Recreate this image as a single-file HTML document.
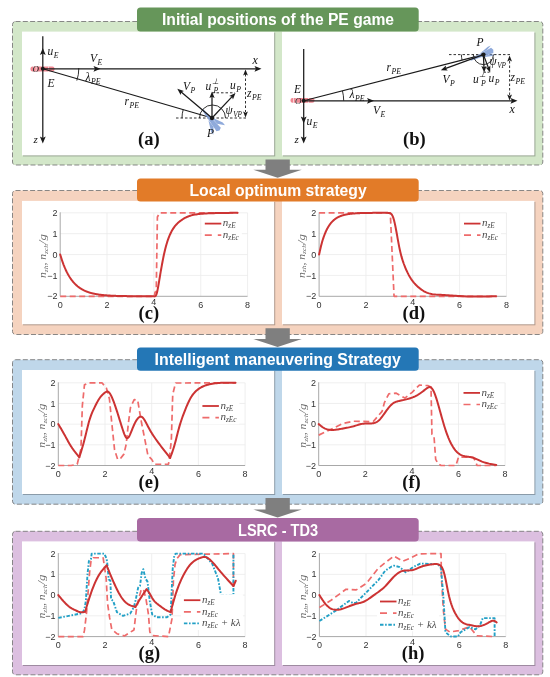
<!DOCTYPE html>
<html><head><meta charset="utf-8"><style>
html,body{margin:0;padding:0;background:#fff;width:550px;height:677px;overflow:hidden}
svg{display:block;filter:blur(0.3px)}
</style></head><body>
<svg width="550" height="677" viewBox="0 0 550 677">
<rect x="0" y="0" width="550" height="677" fill="#ffffff"/>
<rect x="12.5" y="21.5" width="530.3" height="143.5" rx="3" fill="#d3e7c9" stroke="#747474" stroke-width="0.85" stroke-dasharray="5 2.3"/>
<rect x="23" y="32.6" width="252.2" height="123.80000000000001" fill="#000000" opacity="0.28"/>
<rect x="283" y="32.6" width="252.39999999999998" height="123.80000000000001" fill="#000000" opacity="0.28"/>
<rect x="22" y="31.6" width="252.2" height="123.80000000000001" fill="#ffffff"/>
<rect x="282" y="31.6" width="252.39999999999998" height="123.80000000000001" fill="#ffffff"/>
<rect x="12.5" y="190.5" width="530.3" height="144.0" rx="3" fill="#f5d3bf" stroke="#747474" stroke-width="0.85" stroke-dasharray="5 2.3"/>
<rect x="23" y="201.9" width="252.2" height="123.4" fill="#000000" opacity="0.28"/>
<rect x="283" y="201.9" width="252.39999999999998" height="123.4" fill="#000000" opacity="0.28"/>
<rect x="22" y="200.9" width="252.2" height="123.4" fill="#ffffff"/>
<rect x="282" y="200.9" width="252.39999999999998" height="123.4" fill="#ffffff"/>
<rect x="12.5" y="359.7" width="530.3" height="144.5" rx="3" fill="#bfd7ea" stroke="#747474" stroke-width="0.85" stroke-dasharray="5 2.3"/>
<rect x="23" y="371.0" width="252.2" height="124.0" fill="#000000" opacity="0.28"/>
<rect x="283" y="371.0" width="252.39999999999998" height="124.0" fill="#000000" opacity="0.28"/>
<rect x="22" y="370.0" width="252.2" height="124.0" fill="#ffffff"/>
<rect x="282" y="370.0" width="252.39999999999998" height="124.0" fill="#ffffff"/>
<rect x="12.5" y="531.3" width="530.3" height="143.5" rx="3" fill="#dcbfe0" stroke="#747474" stroke-width="0.85" stroke-dasharray="5 2.3"/>
<rect x="23" y="542.4" width="252.2" height="123.60000000000002" fill="#000000" opacity="0.28"/>
<rect x="283" y="542.4" width="252.39999999999998" height="123.60000000000002" fill="#000000" opacity="0.28"/>
<rect x="22" y="541.4" width="252.2" height="123.60000000000002" fill="#ffffff"/>
<rect x="282" y="541.4" width="252.39999999999998" height="123.60000000000002" fill="#ffffff"/>
<rect x="137" y="7.4" width="281.7" height="24.200000000000003" rx="3.5" fill="#66965a"/>
<text x="278.0" y="24.8" text-anchor="middle" textLength="232" lengthAdjust="spacingAndGlyphs" font-family="'Liberation Sans', sans-serif" font-weight="bold" font-size="15.6" fill="#ffffff">Initial positions of the PE game</text>
<rect x="137" y="178.4" width="281.7" height="23.0" rx="3.5" fill="#e27b28"/>
<text x="278.1" y="196.20000000000002" text-anchor="middle" textLength="177.2" lengthAdjust="spacingAndGlyphs" font-family="'Liberation Sans', sans-serif" font-weight="bold" font-size="15.6" fill="#ffffff">Local optimum strategy</text>
<rect x="137" y="347.5" width="281.7" height="23.19999999999999" rx="3.5" fill="#2477b6"/>
<text x="277.75" y="365.40000000000003" text-anchor="middle" textLength="246.29999999999998" lengthAdjust="spacingAndGlyphs" font-family="'Liberation Sans', sans-serif" font-weight="bold" font-size="15.6" fill="#ffffff">Intelligent maneuvering Strategy</text>
<rect x="137" y="518.0" width="281.7" height="23.5" rx="3.5" fill="#a86aa2"/>
<text x="278.0" y="536.05" text-anchor="middle" textLength="80" lengthAdjust="spacingAndGlyphs" font-family="'Liberation Sans', sans-serif" font-weight="bold" font-size="15.6" fill="#ffffff">LSRC - TD3</text>
<polygon points="265.5,159.4 289.8,159.4 289.8,169.8 301.8,169.8 277.6,177.8 253.3,169.8 265.5,169.8" fill="#7f7f7f"/>
<polygon points="265.5,328.3 289.8,328.3 289.8,338.9 301.8,338.9 277.6,346.9 253.3,338.9 265.5,338.9" fill="#7f7f7f"/>
<polygon points="265.5,498.0 289.8,498.0 289.8,509.4 301.8,509.4 277.6,517.4 253.3,509.4 265.5,509.4" fill="#7f7f7f"/>
<path d="M107.04,212.80V296.30M153.88,212.80V296.30M200.72,212.80V296.30M247.56,212.80V296.30M60.20,275.43H247.56M60.20,254.55H247.56M60.20,233.68H247.56M60.20,212.80H247.56" stroke="#ebebeb" stroke-width="0.8" fill="none"/>
<path d="M60.20,212.30V296.30H247.56" stroke="#a8a8a8" stroke-width="1" fill="none"/>
<text x="57.40" y="215.90" text-anchor="end" font-family="'Liberation Sans', sans-serif" font-size="9" fill="#333333">2</text>
<text x="57.40" y="236.78" text-anchor="end" font-family="'Liberation Sans', sans-serif" font-size="9" fill="#333333">1</text>
<text x="57.40" y="257.65" text-anchor="end" font-family="'Liberation Sans', sans-serif" font-size="9" fill="#333333">0</text>
<text x="57.40" y="278.53" text-anchor="end" font-family="'Liberation Sans', sans-serif" font-size="9" fill="#333333">−1</text>
<text x="57.40" y="299.40" text-anchor="end" font-family="'Liberation Sans', sans-serif" font-size="9" fill="#333333">−2</text>
<text x="60.20" y="307.50" text-anchor="middle" font-family="'Liberation Sans', sans-serif" font-size="9" fill="#333333">0</text>
<text x="107.04" y="307.50" text-anchor="middle" font-family="'Liberation Sans', sans-serif" font-size="9" fill="#333333">2</text>
<text x="153.88" y="304.50" text-anchor="middle" font-family="'Liberation Sans', sans-serif" font-size="9" fill="#333333">4</text>
<text x="200.72" y="307.50" text-anchor="middle" font-family="'Liberation Sans', sans-serif" font-size="9" fill="#333333">6</text>
<text x="247.56" y="307.50" text-anchor="middle" font-family="'Liberation Sans', sans-serif" font-size="9" fill="#333333">8</text>
<text transform="translate(45.70,256.05) rotate(-90)" text-anchor="middle" textLength="44" lengthAdjust="spacingAndGlyphs" font-family="'Liberation Serif', serif" font-style="italic" font-size="10" fill="#6a6a6a">n<tspan font-size="6.5" dy="1.8">zh</tspan><tspan dy="-1.8">, n</tspan><tspan font-size="6.5" dy="1.8">zch</tspan><tspan dy="-1.8" font-size="11">/g</tspan></text>
<polyline points="60.20,296.30 154.35,296.30 155.05,292.12 156.22,292.12 157.39,216.98 159.74,212.80 238.19,212.80" stroke="#ee6b6b" stroke-width="1.7" fill="none" stroke-dasharray="6 3.5" stroke-linejoin="round"/>
<polyline points="60.20,254.55 60.43,255.31 60.67,256.06 60.90,256.82 61.14,257.57 61.37,258.31 61.61,259.04 61.84,259.76 62.07,260.47 62.31,261.17 62.54,261.85 62.78,262.52 63.01,263.17 63.24,263.80 63.48,264.42 63.71,265.03 63.95,265.62 64.18,266.20 64.42,266.77 64.65,267.33 64.88,267.88 65.12,268.42 65.35,268.95 65.59,269.47 65.82,269.98 66.06,270.48 66.29,270.97 66.52,271.46 66.76,271.93 66.99,272.40 67.23,272.85 67.46,273.30 67.69,273.74 67.93,274.17 68.16,274.59 68.40,275.00 68.63,275.41 68.87,275.81 69.10,276.20 69.33,276.58 69.57,276.95 69.80,277.32 70.04,277.68 70.27,278.04 70.50,278.39 70.74,278.73 70.97,279.06 71.21,279.39 71.44,279.71 71.68,280.03 71.91,280.34 72.14,280.64 72.38,280.94 72.61,281.23 72.85,281.52 73.08,281.80 73.32,282.08 73.55,282.35 73.78,282.61 74.02,282.88 74.25,283.13 74.49,283.38 74.72,283.63 74.95,283.87 75.19,284.11 75.42,284.34 75.66,284.57 75.89,284.79 76.13,285.01 76.36,285.22 76.59,285.44 76.83,285.64 77.06,285.84 77.30,286.04 77.53,286.24 77.77,286.43 78.00,286.62 78.23,286.80 78.47,286.98 78.70,287.16 78.94,287.34 79.17,287.51 79.40,287.67 79.64,287.84 79.87,288.00 80.11,288.16 80.34,288.31 80.58,288.46 80.81,288.61 81.04,288.76 81.28,288.90 81.51,289.04 81.75,289.18 81.98,289.32 82.21,289.45 82.45,289.58 82.68,289.71 82.92,289.84 83.15,289.96 83.39,290.08 83.62,290.20 83.85,290.31 84.09,290.43 84.32,290.54 84.56,290.65 84.79,290.76 85.03,290.86 85.26,290.97 85.49,291.07 85.73,291.17 85.96,291.27 86.20,291.36 86.43,291.46 86.66,291.55 86.90,291.64 87.13,291.73 87.37,291.81 87.60,291.90 87.84,291.98 88.07,292.07 88.30,292.15 88.54,292.23 88.77,292.30 89.01,292.38 89.24,292.45 89.48,292.53 89.71,292.60 89.94,292.67 90.18,292.74 90.41,292.81 90.65,292.87 90.88,292.94 91.11,293.00 91.35,293.07 91.58,293.13 91.82,293.19 92.05,293.25 92.29,293.30 92.52,293.36 92.75,293.42 92.99,293.47 93.22,293.53 93.46,293.58 93.69,293.63 93.92,293.68 94.16,293.73 94.39,293.78 94.63,293.83 94.86,293.88 95.10,293.92 95.33,293.97 95.56,294.01 95.80,294.06 96.03,294.10 96.27,294.14 96.50,294.18 96.74,294.22 96.97,294.26 97.20,294.30 97.44,294.34 97.67,294.38 97.91,294.41 98.14,294.45 98.37,294.48 98.61,294.52 98.84,294.55 99.08,294.59 99.31,294.62 99.55,294.65 99.78,294.68 100.01,294.71 100.25,294.74 100.48,294.77 100.72,294.80 100.95,294.83 101.19,294.86 101.42,294.89 101.65,294.91 101.89,294.94 102.12,294.96 102.36,294.99 102.59,295.01 102.82,295.04 103.06,295.06 103.29,295.09 103.53,295.11 103.76,295.13 104.00,295.15 104.23,295.18 104.46,295.20 104.70,295.22 104.93,295.24 105.17,295.26 105.40,295.28 105.63,295.30 105.87,295.32 106.10,295.34 106.34,295.36 106.57,295.37 106.81,295.39 107.04,295.41 107.27,295.43 107.51,295.44 107.74,295.46 107.98,295.47 108.21,295.49 108.45,295.51 108.68,295.52 108.91,295.54 109.15,295.55 109.38,295.56 109.62,295.58 109.85,295.59 110.08,295.61 110.32,295.62 110.55,295.63 110.79,295.64 111.02,295.66 111.26,295.67 111.49,295.68 111.72,295.69 111.96,295.70 112.19,295.72 112.43,295.73 112.66,295.74 112.90,295.75 113.13,295.76 113.36,295.77 113.60,295.78 113.83,295.79 114.07,295.80 114.30,295.81 114.53,295.82 114.77,295.83 115.00,295.84 115.24,295.85 115.47,295.85 115.71,295.86 115.94,295.87 116.17,295.88 116.41,295.89 116.64,295.89 116.88,295.90 117.11,295.91 117.34,295.92 117.58,295.92 117.81,295.93 118.05,295.94 118.28,295.95 118.52,295.95 118.75,295.96 118.98,295.97 119.22,295.97 119.45,295.98 119.69,295.98 119.92,295.99 120.16,296.00 120.39,296.00 120.62,296.01 120.86,296.01 121.09,296.02 121.33,296.02 121.56,296.03 121.79,296.03 122.03,296.04 122.26,296.04 122.50,296.05 122.73,296.05 122.97,296.06 123.20,296.06 123.43,296.07 123.67,296.07 123.90,296.08 124.14,296.08 124.37,296.09 124.61,296.09 124.84,296.09 125.07,296.10 125.31,296.10 125.54,296.10 125.78,296.11 126.01,296.11 126.24,296.12 126.48,296.12 126.71,296.12 126.95,296.13 127.18,296.13 127.42,296.13 127.65,296.14 127.88,296.14 128.12,296.14 128.35,296.15 128.59,296.15 128.82,296.15 129.05,296.15 129.29,296.16 129.52,296.16 129.76,296.16 129.99,296.16 130.23,296.17 130.46,296.17 130.69,296.17 130.93,296.17 131.16,296.18 131.40,296.18 131.63,296.18 131.87,296.18 132.10,296.19 132.33,296.19 132.57,296.19 132.80,296.19 133.04,296.19 133.27,296.20 133.50,296.20 133.74,296.20 133.97,296.20 134.21,296.20 134.44,296.21 134.68,296.21 134.91,296.21 135.14,296.21 135.38,296.21 135.61,296.21 135.85,296.22 136.08,296.22 136.31,296.22 136.55,296.22 136.78,296.22 137.02,296.22 137.25,296.23 137.49,296.23 137.72,296.23 137.95,296.23 138.19,296.23 138.42,296.23 138.66,296.23 138.89,296.23 139.13,296.24 139.36,296.24 139.59,296.24 139.83,296.24 140.06,296.24 140.30,296.24 140.53,296.24 140.76,296.24 141.00,296.25 141.23,296.25 141.47,296.25 141.70,296.25 141.94,296.25 142.17,296.25 142.40,296.25 142.64,296.25 142.87,296.25 143.11,296.25 143.34,296.25 143.58,296.26 143.81,296.26 144.04,296.26 144.28,296.26 144.51,296.26 144.75,296.26 144.98,296.26 145.21,296.26 145.45,296.26 145.68,296.26 145.92,296.26 146.15,296.26 146.39,296.27 146.62,296.27 146.85,296.27 147.09,296.27 147.32,296.27 147.56,296.27 147.79,296.27 148.03,296.27 148.26,296.27 148.49,296.27 148.73,296.27 148.96,296.27 149.20,296.27 149.43,296.27 149.66,296.28 149.90,296.28 150.13,296.28 150.37,296.29 150.60,296.29 150.84,296.29 151.07,296.29 151.30,296.28 151.54,296.28 151.77,296.27 152.01,296.26 152.24,296.25 152.47,296.25 152.71,296.24 152.94,296.24 153.18,296.24 153.41,296.26 153.65,296.27 153.88,296.30 154.11,296.33 154.35,296.36 154.58,296.38 154.82,296.36 155.05,296.30 155.29,296.18 155.52,295.98 155.75,295.71 155.99,295.33 156.22,294.84 156.57,293.88 156.92,292.66 157.28,291.22 157.63,289.59 157.98,287.80 158.33,285.88 158.68,283.86 159.03,281.77 159.38,279.64 159.74,277.51 160.20,274.70 160.67,271.94 161.14,269.24 161.61,266.59 162.08,264.02 162.55,261.53 163.01,259.12 163.48,256.80 163.95,254.58 164.42,252.46 165.12,249.49 165.82,246.75 166.53,244.24 167.23,241.93 167.93,239.81 168.63,237.87 169.34,236.09 170.04,234.46 170.74,232.97 171.44,231.59 172.31,230.03 173.18,228.63 174.04,227.35 174.91,226.20 175.78,225.16 176.64,224.21 177.51,223.35 178.38,222.56 179.24,221.83 180.11,221.15 181.00,220.49 181.89,219.86 182.78,219.28 183.67,218.72 184.56,218.21 185.45,217.73 186.34,217.28 187.23,216.87 188.12,216.49 189.01,216.14 190.18,215.73 191.35,215.38 192.52,215.07 193.69,214.81 194.87,214.58 196.04,214.39 197.21,214.22 198.38,214.08 199.55,213.95 200.72,213.84 202.59,213.69 204.47,213.55 206.34,213.44 208.21,213.34 210.09,213.26 211.96,213.19 213.84,213.13 215.71,213.08 217.58,213.04 219.46,213.01 221.26,212.98 223.06,212.95 224.87,212.93 226.67,212.90 228.47,212.88 230.28,212.87 232.08,212.85 233.88,212.83 235.69,212.82 237.49,212.80" stroke="#cc3333" stroke-width="2" fill="none" stroke-linejoin="round" stroke-linecap="round"/>
<rect x="201.8" y="217.6" width="40" height="24.2" fill="#ffffff"/>
<line x1="204.8" y1="223.6" x2="221.3" y2="223.6" stroke="#cc3333" stroke-width="1.8"/>
<text x="222.8" y="226.4" font-family="'Liberation Serif', serif" font-style="italic" font-size="11" fill="#4a4a4a">n<tspan font-size="7.3" dy="2">zE</tspan><tspan dy="-2"></tspan></text>
<line x1="204.8" y1="235.2" x2="221.3" y2="235.2" stroke="#ee6b6b" stroke-width="1.7" stroke-dasharray="7 6 4"/>
<text x="222.8" y="238.0" font-family="'Liberation Serif', serif" font-style="italic" font-size="11" fill="#4a4a4a">n<tspan font-size="7.3" dy="2">zEc</tspan><tspan dy="-2"></tspan></text>
<text x="138.6" y="319.0" font-family="'Liberation Serif', serif" font-weight="bold" font-size="18.5" fill="#111">(c)</text>
<path d="M365.94,212.80V296.30M412.78,212.80V296.30M459.62,212.80V296.30M506.46,212.80V296.30M319.10,275.43H506.46M319.10,254.55H506.46M319.10,233.68H506.46M319.10,212.80H506.46" stroke="#ebebeb" stroke-width="0.8" fill="none"/>
<path d="M319.10,212.30V296.30H506.46" stroke="#a8a8a8" stroke-width="1" fill="none"/>
<text x="316.30" y="215.90" text-anchor="end" font-family="'Liberation Sans', sans-serif" font-size="9" fill="#333333">2</text>
<text x="316.30" y="236.78" text-anchor="end" font-family="'Liberation Sans', sans-serif" font-size="9" fill="#333333">1</text>
<text x="316.30" y="257.65" text-anchor="end" font-family="'Liberation Sans', sans-serif" font-size="9" fill="#333333">0</text>
<text x="316.30" y="278.53" text-anchor="end" font-family="'Liberation Sans', sans-serif" font-size="9" fill="#333333">−1</text>
<text x="316.30" y="299.40" text-anchor="end" font-family="'Liberation Sans', sans-serif" font-size="9" fill="#333333">−2</text>
<text x="319.10" y="307.50" text-anchor="middle" font-family="'Liberation Sans', sans-serif" font-size="9" fill="#333333">0</text>
<text x="365.94" y="307.50" text-anchor="middle" font-family="'Liberation Sans', sans-serif" font-size="9" fill="#333333">2</text>
<text x="412.78" y="304.50" text-anchor="middle" font-family="'Liberation Sans', sans-serif" font-size="9" fill="#333333">4</text>
<text x="459.62" y="307.50" text-anchor="middle" font-family="'Liberation Sans', sans-serif" font-size="9" fill="#333333">6</text>
<text x="506.46" y="307.50" text-anchor="middle" font-family="'Liberation Sans', sans-serif" font-size="9" fill="#333333">8</text>
<text transform="translate(304.60,256.05) rotate(-90)" text-anchor="middle" textLength="44" lengthAdjust="spacingAndGlyphs" font-family="'Liberation Serif', serif" font-style="italic" font-size="10" fill="#6a6a6a">n<tspan font-size="6.5" dy="1.8">zh</tspan><tspan dy="-1.8">, n</tspan><tspan font-size="6.5" dy="1.8">zch</tspan><tspan dy="-1.8" font-size="11">/g</tspan></text>
<polyline points="319.10,212.80 390.30,212.80 394.04,296.30 497.09,296.30" stroke="#ee6b6b" stroke-width="1.7" fill="none" stroke-dasharray="6 3.5" stroke-linejoin="round"/>
<polyline points="319.10,254.55 319.33,253.48 319.57,252.42 319.80,251.36 320.04,250.32 320.27,249.28 320.51,248.26 320.74,247.27 320.97,246.29 321.21,245.34 321.44,244.42 321.68,243.54 321.91,242.68 322.14,241.85 322.38,241.06 322.61,240.28 322.85,239.54 323.08,238.81 323.32,238.11 323.55,237.42 323.78,236.75 324.02,236.10 324.25,235.47 324.49,234.85 324.72,234.25 324.96,233.66 325.19,233.09 325.42,232.53 325.66,231.99 325.89,231.46 326.13,230.94 326.36,230.45 326.59,229.96 326.83,229.49 327.06,229.03 327.30,228.59 327.53,228.16 327.77,227.74 328.00,227.33 328.23,226.93 328.47,226.54 328.70,226.17 328.94,225.80 329.17,225.45 329.40,225.10 329.64,224.76 329.87,224.43 330.11,224.12 330.34,223.81 330.58,223.50 330.81,223.21 331.04,222.93 331.28,222.65 331.51,222.38 331.75,222.12 331.98,221.86 332.22,221.61 332.45,221.37 332.68,221.14 332.92,220.91 333.15,220.69 333.39,220.47 333.62,220.26 333.85,220.06 334.09,219.86 334.32,219.66 334.56,219.47 334.79,219.29 335.03,219.11 335.26,218.94 335.49,218.77 335.73,218.61 335.96,218.45 336.20,218.30 336.43,218.14 336.67,218.00 336.90,217.86 337.13,217.72 337.37,217.58 337.60,217.45 337.84,217.32 338.07,217.20 338.30,217.08 338.54,216.96 338.77,216.85 339.01,216.74 339.24,216.63 339.48,216.52 339.71,216.42 339.94,216.32 340.18,216.23 340.41,216.13 340.65,216.04 340.88,215.95 341.11,215.87 341.35,215.78 341.58,215.70 341.82,215.62 342.05,215.54 342.29,215.47 342.52,215.40 342.75,215.32 342.99,215.26 343.22,215.19 343.46,215.12 343.69,215.06 343.93,215.00 344.16,214.94 344.39,214.88 344.63,214.82 344.86,214.77 345.10,214.71 345.33,214.66 345.56,214.61 345.80,214.56 346.03,214.51 346.27,214.46 346.50,214.42 346.74,214.37 346.97,214.33 347.20,214.29 347.44,214.25 347.67,214.21 347.91,214.17 348.14,214.13 348.38,214.10 348.61,214.06 348.84,214.03 349.08,213.99 349.31,213.96 349.55,213.93 349.78,213.90 350.01,213.87 350.25,213.84 350.48,213.81 350.72,213.78 350.95,213.75 351.19,213.73 351.42,213.70 351.65,213.68 351.89,213.65 352.12,213.63 352.36,213.61 352.59,213.59 352.82,213.56 353.06,213.54 353.29,213.52 353.53,213.50 353.76,213.48 354.00,213.47 354.23,213.45 354.46,213.43 354.70,213.41 354.93,213.40 355.17,213.38 355.40,213.36 355.64,213.35 355.87,213.33 356.10,213.32 356.34,213.30 356.57,213.29 356.81,213.28 357.04,213.26 357.27,213.25 357.51,213.24 357.74,213.23 357.98,213.22 358.21,213.20 358.45,213.19 358.68,213.18 358.91,213.17 359.15,213.16 359.38,213.15 359.62,213.14 359.85,213.13 360.09,213.12 360.32,213.11 360.55,213.11 360.79,213.10 361.02,213.09 361.26,213.08 361.49,213.07 361.72,213.07 361.96,213.06 362.19,213.05 362.43,213.04 362.66,213.04 362.90,213.03 363.13,213.03 363.36,213.02 363.60,213.01 363.83,213.01 364.07,213.00 364.30,213.00 364.53,212.99 364.77,212.99 365.00,212.98 365.24,212.98 365.47,212.97 365.71,212.97 365.94,212.96 366.17,212.96 366.41,212.95 366.64,212.95 366.88,212.94 367.11,212.94 367.35,212.94 367.58,212.93 367.81,212.93 368.05,212.93 368.28,212.92 368.52,212.92 368.75,212.92 368.98,212.91 369.22,212.91 369.45,212.91 369.69,212.90 369.92,212.90 370.16,212.90 370.39,212.90 370.62,212.89 370.86,212.89 371.09,212.89 371.33,212.89 371.56,212.88 371.80,212.88 372.03,212.88 372.26,212.88 372.50,212.87 372.73,212.87 372.97,212.87 373.20,212.87 373.43,212.87 373.67,212.86 373.90,212.86 374.14,212.86 374.37,212.86 374.61,212.86 374.84,212.86 375.07,212.85 375.31,212.85 375.54,212.85 375.78,212.85 376.01,212.85 376.24,212.85 376.48,212.85 376.71,212.84 376.95,212.84 377.18,212.84 377.42,212.84 377.65,212.84 377.88,212.84 378.12,212.84 378.35,212.84 378.59,212.84 378.82,212.84 379.06,212.83 379.29,212.83 379.52,212.83 379.76,212.83 379.99,212.83 380.23,212.83 380.46,212.83 380.69,212.83 380.93,212.83 381.16,212.83 381.40,212.82 381.63,212.82 381.87,212.82 382.10,212.82 382.33,212.82 382.57,212.82 382.80,212.82 383.04,212.82 383.27,212.83 383.50,212.83 383.74,212.83 383.97,212.82 384.21,212.82 384.44,212.82 384.68,212.82 384.91,212.81 385.14,212.81 385.38,212.80 385.61,212.80 385.85,212.80 386.08,212.79 386.32,212.79 386.55,212.80 386.78,212.80 387.02,212.81 387.25,212.83 387.49,212.85 387.72,212.87 387.95,212.89 388.19,212.92 388.42,212.96 388.66,212.99 388.89,213.03 389.13,213.07 389.36,213.11 389.59,213.16 389.83,213.21 390.06,213.28 390.30,213.36 390.53,213.46 390.77,213.59 391.00,213.75 391.23,213.95 391.47,214.19 391.70,214.47 391.94,214.80 392.17,215.19 392.40,215.63 392.64,216.13 392.87,216.68 393.11,217.29 393.34,217.95 393.58,218.68 393.81,219.47 394.04,220.31 394.56,222.40 395.07,224.73 395.59,227.28 396.10,229.99 396.62,232.80 397.14,235.68 397.65,238.57 398.17,241.42 398.68,244.19 399.20,246.83 399.76,249.50 400.32,251.98 400.88,254.27 401.44,256.39 402.01,258.36 402.57,260.19 403.13,261.90 403.69,263.50 404.26,265.01 404.82,266.45 405.57,268.27 406.32,270.00 407.07,271.62 407.81,273.16 408.56,274.61 409.31,275.97 410.06,277.25 410.81,278.45 411.56,279.58 412.31,280.64 413.06,281.64 413.81,282.57 414.56,283.45 415.31,284.27 416.06,285.05 416.81,285.78 417.56,286.47 418.31,287.13 419.06,287.76 419.81,288.37 420.23,288.70 420.65,289.02 421.07,289.34 421.49,289.65 421.91,289.94 422.34,290.23 422.76,290.51 423.18,290.78 423.60,291.04 424.02,291.29 425.68,292.15 427.35,292.85 429.01,293.40 430.67,293.83 432.34,294.15 434.00,294.38 435.66,294.55 437.32,294.67 438.99,294.76 440.65,294.84 442.55,294.94 444.44,295.06 446.34,295.19 448.24,295.32 450.13,295.46 452.03,295.60 453.93,295.73 455.83,295.86 457.72,295.98 459.62,296.09 463.25,296.26 466.88,296.39 470.51,296.47 474.14,296.51 477.77,296.53 481.40,296.51 485.03,296.48 488.66,296.43 492.29,296.37 495.92,296.30" stroke="#cc3333" stroke-width="2" fill="none" stroke-linejoin="round" stroke-linecap="round"/>
<rect x="461" y="217.6" width="40" height="24.2" fill="#ffffff"/>
<line x1="464" y1="223.6" x2="480.5" y2="223.6" stroke="#cc3333" stroke-width="1.8"/>
<text x="482" y="226.4" font-family="'Liberation Serif', serif" font-style="italic" font-size="11" fill="#4a4a4a">n<tspan font-size="7.3" dy="2">zE</tspan><tspan dy="-2"></tspan></text>
<line x1="464" y1="235.2" x2="480.5" y2="235.2" stroke="#ee6b6b" stroke-width="1.7" stroke-dasharray="7 6 4"/>
<text x="482" y="238.0" font-family="'Liberation Serif', serif" font-style="italic" font-size="11" fill="#4a4a4a">n<tspan font-size="7.3" dy="2">zEc</tspan><tspan dy="-2"></tspan></text>
<text x="402.5" y="319.0" font-family="'Liberation Serif', serif" font-weight="bold" font-size="18.5" fill="#111">(d)</text>
<path d="M105.00,382.80V465.50M151.70,382.80V465.50M198.40,382.80V465.50M245.10,382.80V465.50M58.30,444.82H245.10M58.30,424.15H245.10M58.30,403.47H245.10M58.30,382.80H245.10" stroke="#ebebeb" stroke-width="0.8" fill="none"/>
<path d="M58.30,382.30V465.50H245.10" stroke="#a8a8a8" stroke-width="1" fill="none"/>
<text x="55.50" y="385.90" text-anchor="end" font-family="'Liberation Sans', sans-serif" font-size="9" fill="#333333">2</text>
<text x="55.50" y="406.57" text-anchor="end" font-family="'Liberation Sans', sans-serif" font-size="9" fill="#333333">1</text>
<text x="55.50" y="427.25" text-anchor="end" font-family="'Liberation Sans', sans-serif" font-size="9" fill="#333333">0</text>
<text x="55.50" y="447.93" text-anchor="end" font-family="'Liberation Sans', sans-serif" font-size="9" fill="#333333">−1</text>
<text x="55.50" y="468.60" text-anchor="end" font-family="'Liberation Sans', sans-serif" font-size="9" fill="#333333">−2</text>
<text x="58.30" y="476.70" text-anchor="middle" font-family="'Liberation Sans', sans-serif" font-size="9" fill="#333333">0</text>
<text x="105.00" y="476.70" text-anchor="middle" font-family="'Liberation Sans', sans-serif" font-size="9" fill="#333333">2</text>
<text x="151.70" y="473.70" text-anchor="middle" font-family="'Liberation Sans', sans-serif" font-size="9" fill="#333333">4</text>
<text x="198.40" y="476.70" text-anchor="middle" font-family="'Liberation Sans', sans-serif" font-size="9" fill="#333333">6</text>
<text x="245.10" y="476.70" text-anchor="middle" font-family="'Liberation Sans', sans-serif" font-size="9" fill="#333333">8</text>
<text transform="translate(45.30,425.65) rotate(-90)" text-anchor="middle" textLength="44" lengthAdjust="spacingAndGlyphs" font-family="'Liberation Serif', serif" font-style="italic" font-size="10" fill="#6a6a6a">n<tspan font-size="6.5" dy="1.8">zh</tspan><tspan dy="-1.8">, n</tspan><tspan font-size="6.5" dy="1.8">zch</tspan><tspan dy="-1.8" font-size="11">/g</tspan></text>
<polyline points="58.30,465.50 71.14,465.50 77.21,464.26 80.95,448.96 82.35,405.54 84.45,384.87 88.89,382.80 101.96,382.80 106.40,387.97 109.44,398.93 111.54,420.64 114.57,449.79 117.61,459.30 119.94,459.30 123.91,454.13 126.25,444.00 128.35,423.53 130.45,407.61 134.19,399.55 137.69,400.37 141.43,422.29 145.16,441.10 147.96,455.58 151.70,459.30 154.50,464.26 168.51,464.26 171.31,441.10 172.72,394.58 175.52,383.01 235.76,382.80" stroke="#ee6b6b" stroke-width="1.7" fill="none" stroke-dasharray="6 3.5" stroke-linejoin="round"/>
<polyline points="58.30,424.15 58.86,425.07 59.42,426.00 59.98,426.93 60.54,427.86 61.10,428.80 61.66,429.75 62.22,430.71 62.78,431.68 63.34,432.66 63.90,433.66 64.49,434.72 65.07,435.79 65.66,436.86 66.24,437.94 66.82,439.02 67.41,440.09 67.99,441.15 68.57,442.19 69.16,443.21 69.74,444.20 70.19,444.94 70.63,445.65 71.07,446.35 71.52,447.03 71.96,447.70 72.40,448.35 72.85,448.98 73.29,449.61 73.73,450.22 74.18,450.82 74.69,451.50 75.21,452.17 75.72,452.83 76.23,453.48 76.75,454.11 77.26,454.75 77.77,455.37 78.29,455.99 78.80,456.61 79.31,457.23" stroke="#cc3333" stroke-width="2" fill="none" stroke-linejoin="round" stroke-linecap="round"/>
<polyline points="79.31,457.23 79.83,455.63 80.34,454.01 80.86,452.39 81.37,450.73 81.88,449.05 82.40,447.33 82.91,445.55 83.42,443.72 83.94,441.83 84.45,439.86 84.90,438.10 85.34,436.30 85.78,434.47 86.23,432.62 86.67,430.77 87.11,428.94 87.56,427.14 88.00,425.39 88.44,423.70 88.89,422.08 89.50,420.02 90.10,418.11 90.71,416.35 91.32,414.70 91.92,413.17 92.53,411.73 93.14,410.37 93.75,409.07 94.35,407.81 94.96,406.58 95.47,405.55 95.99,404.53 96.50,403.53 97.01,402.56 97.53,401.61 98.04,400.70 98.56,399.82 99.07,398.99 99.58,398.21 100.10,397.48 100.52,396.92 100.94,396.40 101.36,395.92 101.78,395.46 102.20,395.03 102.62,394.62 103.04,394.23 103.46,393.85 103.88,393.49 104.30,393.14 104.67,392.83 105.05,392.54 105.42,392.27 105.79,392.03 106.17,391.83 106.54,391.67 106.91,391.57 107.29,391.54 107.66,391.57 108.04,391.69 108.55,391.99 109.06,392.45 109.58,393.06 110.09,393.80 110.60,394.66 111.12,395.63 111.63,396.70 112.15,397.85 112.66,399.08 113.17,400.37 113.76,401.90 114.34,403.50 114.92,405.14 115.51,406.84 116.09,408.58 116.67,410.35 117.26,412.17 117.84,414.00 118.43,415.86 119.01,417.74 119.43,419.10 119.85,420.46 120.27,421.82 120.69,423.17 121.11,424.52 121.53,425.85 121.95,427.16 122.37,428.46 122.79,429.73 123.21,430.97 123.59,432.05 123.96,433.09 124.33,434.07 124.71,434.99 125.08,435.82 125.45,436.55 125.83,437.17 126.20,437.66 126.58,438.01 126.95,438.21 127.46,438.21 127.98,437.92 128.49,437.37 129.00,436.61 129.52,435.67 130.03,434.59 130.54,433.40 131.06,432.13 131.57,430.83 132.09,429.53 132.65,428.14 133.21,426.80 133.77,425.51 134.33,424.29 134.89,423.13 135.45,422.04 136.01,421.04 136.57,420.12 137.13,419.29 137.69,418.57 138.13,418.07 138.58,417.64 139.02,417.28 139.46,417.00 139.91,416.80 140.35,416.68 140.80,416.65 141.24,416.71 141.68,416.87 142.13,417.12 142.71,417.60 143.29,418.24 143.88,419.01 144.46,419.90 145.05,420.87 145.63,421.92 146.21,423.02 146.80,424.15 147.38,425.29 147.96,426.42 148.99,428.34 150.02,430.17 151.05,431.92 152.07,433.60 153.10,435.21 154.13,436.76 155.16,438.26 156.18,439.72 157.21,441.15 158.24,442.55 159.43,444.15 160.62,445.73 161.81,447.29 163.00,448.83 164.19,450.35 165.38,451.87 166.57,453.37 167.76,454.87 168.96,456.36 170.15,457.85" stroke="#cc3333" stroke-width="2" fill="none" stroke-linejoin="round" stroke-linecap="round"/>
<polyline points="170.15,457.85 170.59,456.67 171.03,455.49 171.48,454.29 171.92,453.07 172.36,451.82 172.81,450.53 173.25,449.19 173.70,447.80 174.14,446.35 174.58,444.82 175.00,443.32 175.42,441.75 175.84,440.14 176.26,438.50 176.68,436.84 177.10,435.17 177.53,433.51 177.95,431.87 178.37,430.26 178.79,428.70 179.37,426.62 179.95,424.63 180.54,422.74 181.12,420.94 181.70,419.20 182.29,417.53 182.87,415.92 183.46,414.36 184.04,412.83 184.62,411.33 185.21,409.86 185.79,408.41 186.37,406.99 186.96,405.60 187.54,404.26 188.13,402.96 188.71,401.71 189.29,400.51 189.88,399.38 190.46,398.31 191.18,397.07 191.91,395.94 192.63,394.89 193.36,393.94 194.08,393.06 194.80,392.25 195.53,391.52 196.25,390.83 196.98,390.21 197.70,389.62 198.73,388.86 199.75,388.17 200.78,387.55 201.81,386.99 202.84,386.49 203.86,386.04 204.89,385.64 205.92,385.28 206.95,384.95 207.97,384.66 209.42,384.30 210.87,383.98 212.32,383.71 213.76,383.49 215.21,383.30 216.66,383.15 218.11,383.02 219.56,382.93 221.00,382.85 222.45,382.80 223.76,382.76 225.07,382.74 226.37,382.73 227.68,382.72 228.99,382.72 230.30,382.73 231.60,382.74 232.91,382.76 234.22,382.78 235.53,382.80" stroke="#cc3333" stroke-width="2" fill="none" stroke-linejoin="round" stroke-linecap="round"/>
<rect x="199.4" y="400.0" width="40" height="24.2" fill="#ffffff"/>
<line x1="202.4" y1="406.0" x2="218.9" y2="406.0" stroke="#cc3333" stroke-width="1.8"/>
<text x="220.4" y="408.8" font-family="'Liberation Serif', serif" font-style="italic" font-size="11" fill="#4a4a4a">n<tspan font-size="7.3" dy="2">zE</tspan><tspan dy="-2"></tspan></text>
<line x1="202.4" y1="417.6" x2="218.9" y2="417.6" stroke="#ee6b6b" stroke-width="1.7" stroke-dasharray="7 6 4"/>
<text x="220.4" y="420.40000000000003" font-family="'Liberation Serif', serif" font-style="italic" font-size="11" fill="#4a4a4a">n<tspan font-size="7.3" dy="2">zEc</tspan><tspan dy="-2"></tspan></text>
<text x="138.6" y="488.0" font-family="'Liberation Serif', serif" font-weight="bold" font-size="18.5" fill="#111">(e)</text>
<path d="M365.30,382.80V465.50M411.90,382.80V465.50M458.50,382.80V465.50M505.10,382.80V465.50M318.70,444.82H505.10M318.70,424.15H505.10M318.70,403.47H505.10M318.70,382.80H505.10" stroke="#ebebeb" stroke-width="0.8" fill="none"/>
<path d="M318.70,382.30V465.50H505.10" stroke="#a8a8a8" stroke-width="1" fill="none"/>
<text x="315.90" y="385.90" text-anchor="end" font-family="'Liberation Sans', sans-serif" font-size="9" fill="#333333">2</text>
<text x="315.90" y="406.57" text-anchor="end" font-family="'Liberation Sans', sans-serif" font-size="9" fill="#333333">1</text>
<text x="315.90" y="427.25" text-anchor="end" font-family="'Liberation Sans', sans-serif" font-size="9" fill="#333333">0</text>
<text x="315.90" y="447.93" text-anchor="end" font-family="'Liberation Sans', sans-serif" font-size="9" fill="#333333">−1</text>
<text x="315.90" y="468.60" text-anchor="end" font-family="'Liberation Sans', sans-serif" font-size="9" fill="#333333">−2</text>
<text x="318.70" y="476.70" text-anchor="middle" font-family="'Liberation Sans', sans-serif" font-size="9" fill="#333333">0</text>
<text x="365.30" y="476.70" text-anchor="middle" font-family="'Liberation Sans', sans-serif" font-size="9" fill="#333333">2</text>
<text x="411.90" y="473.70" text-anchor="middle" font-family="'Liberation Sans', sans-serif" font-size="9" fill="#333333">4</text>
<text x="458.50" y="476.70" text-anchor="middle" font-family="'Liberation Sans', sans-serif" font-size="9" fill="#333333">6</text>
<text x="505.10" y="476.70" text-anchor="middle" font-family="'Liberation Sans', sans-serif" font-size="9" fill="#333333">8</text>
<text transform="translate(305.70,425.65) rotate(-90)" text-anchor="middle" textLength="44" lengthAdjust="spacingAndGlyphs" font-family="'Liberation Serif', serif" font-style="italic" font-size="10" fill="#6a6a6a">n<tspan font-size="6.5" dy="1.8">zh</tspan><tspan dy="-1.8">, n</tspan><tspan font-size="6.5" dy="1.8">zch</tspan><tspan dy="-1.8" font-size="11">/g</tspan></text>
<polyline points="318.70,435.11 329.65,429.94 342.70,423.53 353.65,421.26 373.22,421.67 382.08,411.33 384.41,402.65 388.83,393.76 396.29,393.14 404.91,398.10 412.13,392.31 419.36,385.07 428.21,385.69 431.01,386.94 431.94,434.49 434.03,436.55 435.67,459.30 438.00,463.43 441.02,465.50 455.94,465.50 458.50,457.23 473.41,457.23 477.14,465.50 496.25,465.50" stroke="#ee6b6b" stroke-width="1.7" fill="none" stroke-dasharray="6 3.5" stroke-linejoin="round"/>
<polyline points="318.70,424.15 319.28,424.62 319.87,425.08 320.45,425.54 321.03,425.99 321.61,426.43 322.19,426.85 322.78,427.25 323.36,427.62 323.94,427.97 324.52,428.28 325.25,428.63 325.97,428.93 326.69,429.19 327.41,429.40 328.14,429.57 328.86,429.70 329.58,429.80 330.30,429.87 331.03,429.92 331.75,429.94 332.77,429.93 333.80,429.89 334.82,429.81 335.85,429.70 336.87,429.57 337.90,429.42 338.92,429.25 339.95,429.07 340.97,428.89 342.00,428.70 343.16,428.49 344.33,428.28 345.50,428.06 346.66,427.84 347.82,427.61 348.99,427.37 350.15,427.11 351.32,426.83 352.49,426.54 353.65,426.22 354.58,425.94 355.51,425.66 356.45,425.37 357.38,425.08 358.31,424.80 359.24,424.53 360.17,424.29 361.11,424.07 362.04,423.88 362.97,423.74 363.90,423.63 364.83,423.57 365.77,423.53 366.70,423.51 367.63,423.51 368.56,423.50 369.49,423.49 370.43,423.46 371.36,423.41 372.29,423.32 372.87,423.25 373.45,423.15 374.04,423.03 374.62,422.88 375.20,422.69 375.78,422.46 376.37,422.19 376.95,421.86 377.53,421.49 378.12,421.05 378.72,420.53 379.33,419.95 379.93,419.31 380.54,418.62 381.14,417.89 381.75,417.12 382.36,416.32 382.96,415.50 383.57,414.66 384.17,413.81 385.04,412.60 385.90,411.39 386.76,410.20 387.62,409.04 388.48,407.93 389.35,406.87 390.21,405.88 391.07,404.98 391.93,404.17 392.79,403.47 393.42,403.04 394.05,402.66 394.68,402.34 395.31,402.06 395.94,401.82 396.57,401.61 397.20,401.43 397.83,401.28 398.46,401.13 399.08,400.99 400.11,400.77 401.14,400.56 402.16,400.33 403.19,400.11 404.21,399.88 405.24,399.63 406.26,399.38 407.29,399.11 408.31,398.82 409.34,398.51 410.29,398.20 411.25,397.87 412.20,397.52 413.16,397.14 414.11,396.73 415.07,396.29 416.02,395.81 416.98,395.30 417.93,394.76 418.89,394.17 419.59,393.72 420.29,393.24 420.99,392.75 421.69,392.24 422.38,391.72 423.08,391.19 423.78,390.65 424.48,390.11 425.18,389.56 425.88,389.00 426.30,388.67 426.72,388.35 427.14,388.05 427.56,387.77 427.98,387.53 428.40,387.33 428.82,387.18 429.24,387.09 429.65,387.08 430.07,387.14 430.40,387.25 430.73,387.41 431.05,387.63 431.38,387.89 431.70,388.22 432.03,388.59 432.36,389.03 432.68,389.51 433.01,390.06 433.34,390.66 433.85,391.71 434.36,392.89 434.87,394.19 435.39,395.59 435.90,397.08 436.41,398.65 436.92,400.30 437.44,402.00 437.95,403.76 438.46,405.54 439.11,407.85 439.77,410.19 440.42,412.54 441.07,414.89 441.72,417.23 442.38,419.54 443.03,421.82 443.68,424.04 444.33,426.20 444.99,428.28 445.85,430.90 446.71,433.37 447.57,435.68 448.43,437.85 449.30,439.87 450.16,441.75 451.02,443.49 451.88,445.10 452.74,446.58 453.61,447.93 454.49,449.18 455.38,450.31 456.26,451.32 457.15,452.22 458.03,453.01 458.92,453.69 459.80,454.29 460.69,454.80 461.58,455.22 462.46,455.58 463.32,455.85 464.19,456.08 465.05,456.26 465.91,456.40 466.77,456.53 467.63,456.65 468.50,456.77 469.36,456.89 470.22,457.05 471.08,457.23 472.18,457.52 473.27,457.88 474.37,458.28 475.46,458.73 476.56,459.20 477.65,459.68 478.75,460.18 479.84,460.66 480.94,461.13 482.03,461.57 483.45,462.09 484.88,462.55 486.30,462.95 487.72,463.32 489.14,463.64 490.56,463.92 491.98,464.19 493.40,464.43 494.82,464.66 496.25,464.88" stroke="#cc3333" stroke-width="2" fill="none" stroke-linejoin="round" stroke-linecap="round"/>
<rect x="460.5" y="386.9" width="40" height="24.2" fill="#ffffff"/>
<line x1="463.5" y1="392.9" x2="480.0" y2="392.9" stroke="#cc3333" stroke-width="1.8"/>
<text x="481.5" y="395.7" font-family="'Liberation Serif', serif" font-style="italic" font-size="11" fill="#4a4a4a">n<tspan font-size="7.3" dy="2">zE</tspan><tspan dy="-2"></tspan></text>
<line x1="463.5" y1="404.5" x2="480.0" y2="404.5" stroke="#ee6b6b" stroke-width="1.7" stroke-dasharray="7 6 4"/>
<text x="481.5" y="407.3" font-family="'Liberation Serif', serif" font-style="italic" font-size="11" fill="#4a4a4a">n<tspan font-size="7.3" dy="2">zEc</tspan><tspan dy="-2"></tspan></text>
<text x="402.3" y="488.0" font-family="'Liberation Serif', serif" font-weight="bold" font-size="18.5" fill="#111">(f)</text>
<path d="M105.00,553.60V636.60M151.70,553.60V636.60M198.40,553.60V636.60M245.10,553.60V636.60M58.30,615.85H245.10M58.30,595.10H245.10M58.30,574.35H245.10M58.30,553.60H245.10" stroke="#ebebeb" stroke-width="0.8" fill="none"/>
<path d="M58.30,553.10V636.60H245.10" stroke="#a8a8a8" stroke-width="1" fill="none"/>
<text x="55.50" y="556.70" text-anchor="end" font-family="'Liberation Sans', sans-serif" font-size="9" fill="#333333">2</text>
<text x="55.50" y="577.45" text-anchor="end" font-family="'Liberation Sans', sans-serif" font-size="9" fill="#333333">1</text>
<text x="55.50" y="598.20" text-anchor="end" font-family="'Liberation Sans', sans-serif" font-size="9" fill="#333333">0</text>
<text x="55.50" y="618.95" text-anchor="end" font-family="'Liberation Sans', sans-serif" font-size="9" fill="#333333">−1</text>
<text x="55.50" y="639.70" text-anchor="end" font-family="'Liberation Sans', sans-serif" font-size="9" fill="#333333">−2</text>
<text x="58.30" y="647.80" text-anchor="middle" font-family="'Liberation Sans', sans-serif" font-size="9" fill="#333333">0</text>
<text x="105.00" y="647.80" text-anchor="middle" font-family="'Liberation Sans', sans-serif" font-size="9" fill="#333333">2</text>
<text x="151.70" y="644.80" text-anchor="middle" font-family="'Liberation Sans', sans-serif" font-size="9" fill="#333333">4</text>
<text x="198.40" y="647.80" text-anchor="middle" font-family="'Liberation Sans', sans-serif" font-size="9" fill="#333333">6</text>
<text x="245.10" y="647.80" text-anchor="middle" font-family="'Liberation Sans', sans-serif" font-size="9" fill="#333333">8</text>
<text transform="translate(45.30,596.60) rotate(-90)" text-anchor="middle" textLength="44" lengthAdjust="spacingAndGlyphs" font-family="'Liberation Serif', serif" font-style="italic" font-size="10" fill="#6a6a6a">n<tspan font-size="6.5" dy="1.8">zh</tspan><tspan dy="-1.8">, n</tspan><tspan font-size="6.5" dy="1.8">zch</tspan><tspan dy="-1.8" font-size="11">/g</tspan></text>
<polyline points="58.30,636.60 83.05,636.60 84.45,630.38 86.55,612.74 89.59,572.27 90.99,561.07 93.33,557.75 103.13,557.75 106.17,578.50 107.57,603.40 109.67,617.93 111.77,629.34 116.91,633.70 124.38,635.98 130.22,632.24 133.95,629.96 136.52,608.59 138.86,598.21 141.19,589.91 143.53,589.29 146.10,599.67 148.43,614.40 149.83,632.04 152.17,635.56 168.51,636.60 172.01,618.55 173.42,580.58 175.05,564.39 177.15,558.37 180.19,554.64 233.43,553.60 233.43,584.73" stroke="#ee6b6b" stroke-width="1.7" fill="none" stroke-dasharray="6 3.5" stroke-linejoin="round"/>
<polyline points="58.30,617.93 82.35,613.15 84.45,609.21 85.85,600.91 87.49,574.35 88.89,561.07 90.99,558.79 91.69,553.60 104.30,553.60 106.63,558.79 107.34,563.98 108.74,579.54 110.37,580.58 111.07,599.25 113.17,600.91 116.91,612.12 122.98,615.85 130.22,613.57 133.95,606.93 135.82,599.25 138.16,587.63 140.03,585.76 141.66,572.90 143.29,569.16 145.40,578.50 147.50,581.61 149.83,601.33 152.17,614.40 156.60,617.30 166.88,617.30 170.61,614.40 172.72,568.54 174.35,555.05 175.75,553.60 203.30,553.60 212.18,563.56 218.01,578.50 221.05,595.10 233.43,595.10 233.43,553.60" stroke="#22a0c6" stroke-width="1.9" fill="none" stroke-dasharray="3.5 1.6 1.6 1.6" stroke-linejoin="round"/>
<polyline points="58.30,595.10 58.88,595.81 59.47,596.52 60.05,597.22 60.63,597.92 61.22,598.62 61.80,599.30 62.39,599.98 62.97,600.65 63.55,601.30 64.14,601.95 64.70,602.55 65.26,603.14 65.82,603.71 66.38,604.26 66.94,604.80 67.50,605.31 68.06,605.81 68.62,606.27 69.18,606.72 69.74,607.13 70.35,607.56 70.96,607.95 71.56,608.32 72.17,608.66 72.78,608.99 73.38,609.30 73.99,609.60 74.60,609.89 75.21,610.17 75.81,610.46 76.40,610.73 76.98,611.00 77.56,611.26 78.15,611.50 78.73,611.72 79.31,611.92 79.90,612.08 80.48,612.21 81.07,612.29 81.65,612.32 82.00,612.32 82.35,612.29 82.70,612.25 83.05,612.20 83.40,612.13 83.75,612.06 84.10,611.98 84.45,611.89 84.80,611.79 85.15,611.70" stroke="#cc3333" stroke-width="2" fill="none" stroke-linejoin="round" stroke-linecap="round"/>
<polyline points="85.15,611.70 85.67,609.97 86.18,608.25 86.69,606.54 87.21,604.83 87.72,603.15 88.23,601.48 88.75,599.84 89.26,598.23 89.78,596.64 90.29,595.10 91.20,592.46 92.11,589.94 93.02,587.56 93.93,585.29 94.84,583.16 95.75,581.15 96.66,579.26 97.57,577.50 98.49,575.86 99.40,574.35 100.12,573.23 100.84,572.19 101.57,571.21 102.29,570.28 103.02,569.40 103.74,568.56 104.46,567.75 105.19,566.96 105.91,566.19 106.63,565.43" stroke="#cc3333" stroke-width="2" fill="none" stroke-linejoin="round" stroke-linecap="round"/>
<polyline points="106.63,565.43 107.38,567.27 108.13,569.11 108.88,570.94 109.62,572.76 110.37,574.56 111.12,576.35 111.86,578.12 112.61,579.87 113.36,581.58 114.11,583.27 114.99,585.23 115.88,587.14 116.77,588.98 117.66,590.75 118.54,592.44 119.43,594.04 120.32,595.56 121.20,596.97 122.09,598.27 122.98,599.46 123.75,600.39 124.52,601.23 125.29,601.99 126.06,602.68 126.83,603.29 127.60,603.84 128.37,604.32 129.14,604.76 129.91,605.14 130.69,605.48 131.15,605.66 131.62,605.83 132.09,605.99 132.55,606.15 133.02,606.29 133.49,606.43 133.95,606.56 134.42,606.68 134.89,606.81 135.36,606.93" stroke="#cc3333" stroke-width="2" fill="none" stroke-linejoin="round" stroke-linecap="round"/>
<polyline points="135.36,606.93 135.94,605.92 136.52,604.92 137.11,603.92 137.69,602.92 138.27,601.94 138.86,600.96 139.44,599.99 140.03,599.04 140.61,598.10 141.19,597.18 141.73,596.34 142.27,595.52 142.80,594.72 143.34,593.92 143.88,593.13 144.41,592.36 144.95,591.58 145.49,590.82 146.03,590.05 146.56,589.29" stroke="#cc3333" stroke-width="2" fill="none" stroke-linejoin="round" stroke-linecap="round"/>
<polyline points="146.56,589.29 146.84,589.62 147.12,589.96 147.40,590.30 147.68,590.65 147.96,591.01 148.24,591.38 148.52,591.76 148.80,592.16 149.08,592.58 149.37,593.02 149.65,593.49 149.93,593.97 150.21,594.47 150.49,594.98 150.77,595.50 151.05,596.02 151.33,596.53 151.61,597.03 151.89,597.53 152.17,598.00 152.89,599.14 153.61,600.15 154.34,601.05 155.06,601.85 155.79,602.57 156.51,603.22 157.23,603.82 157.96,604.39 158.68,604.93 159.41,605.48 159.92,605.86 160.43,606.26 160.95,606.65 161.46,607.04 161.97,607.43 162.49,607.81 163.00,608.18 163.52,608.54 164.03,608.88 164.54,609.21 165.15,609.58 165.76,609.92 166.36,610.24 166.97,610.54 167.58,610.83 168.19,611.10 168.79,611.36 169.40,611.62 170.01,611.87 170.61,612.12" stroke="#cc3333" stroke-width="2" fill="none" stroke-linejoin="round" stroke-linecap="round"/>
<polyline points="170.61,612.12 171.06,610.44 171.50,608.77 171.94,607.11 172.39,605.47 172.83,603.84 173.28,602.24 173.72,600.66 174.16,599.11 174.61,597.61 175.05,596.14 175.70,594.05 176.36,592.07 177.01,590.17 177.67,588.35 178.32,586.61 178.97,584.94 179.63,583.35 180.28,581.81 180.93,580.34 181.59,578.91 182.64,576.73 183.69,574.67 184.74,572.73 185.79,570.92 186.84,569.24 187.89,567.68 188.94,566.25 189.99,564.95 191.04,563.78 192.10,562.73 192.96,561.97 193.82,561.28 194.69,560.67 195.55,560.12 196.42,559.63 197.28,559.19 198.14,558.78 199.01,558.42 199.87,558.07 200.74,557.75 201.13,557.61 201.53,557.47 201.93,557.34 202.32,557.22 202.72,557.11 203.12,557.03 203.51,556.96 203.91,556.92 204.31,556.90 204.70,556.92 205.24,556.99 205.78,557.13 206.32,557.31 206.85,557.55 207.39,557.83 207.93,558.16 208.46,558.52 209.00,558.93 209.54,559.36 210.07,559.83 211.01,560.69 211.94,561.63 212.88,562.62 213.81,563.66 214.75,564.75 215.68,565.86 216.61,566.99 217.55,568.13 218.48,569.27 219.42,570.41 220.82,572.08 222.22,573.71 223.62,575.32 225.02,576.89 226.42,578.44 227.82,579.97 229.22,581.48 230.62,582.99 232.02,584.48 233.43,585.97" stroke="#cc3333" stroke-width="2" fill="none" stroke-linejoin="round" stroke-linecap="round"/>
<polyline points="233.43,585.97 235.76,580.78" stroke="#cc3333" stroke-width="2" fill="none" stroke-linejoin="round" stroke-linecap="round"/>
<rect x="180.9" y="594.2" width="62" height="35.8" fill="#ffffff"/>
<line x1="183.9" y1="600.2" x2="200.4" y2="600.2" stroke="#cc3333" stroke-width="1.8"/>
<text x="201.9" y="603.0" font-family="'Liberation Serif', serif" font-style="italic" font-size="11" fill="#4a4a4a">n<tspan font-size="7.3" dy="2">zE</tspan><tspan dy="-2"></tspan></text>
<line x1="183.9" y1="611.8000000000001" x2="200.4" y2="611.8000000000001" stroke="#ee6b6b" stroke-width="1.7" stroke-dasharray="7 6 4"/>
<text x="201.9" y="614.6" font-family="'Liberation Serif', serif" font-style="italic" font-size="11" fill="#4a4a4a">n<tspan font-size="7.3" dy="2">zEc</tspan><tspan dy="-2"></tspan></text>
<line x1="183.9" y1="623.4000000000001" x2="200.4" y2="623.4000000000001" stroke="#22a0c6" stroke-width="1.9" stroke-dasharray="3.5 1.6 1.6 1.6"/>
<text x="201.9" y="626.2" font-family="'Liberation Serif', serif" font-style="italic" font-size="11" fill="#4a4a4a">n<tspan font-size="7.3" dy="2">zEc</tspan><tspan dy="-2"> + kλ</tspan></text>
<text x="138.6" y="659.3" font-family="'Liberation Serif', serif" font-weight="bold" font-size="18.5" fill="#111">(g)</text>
<path d="M366.00,553.60V636.60M412.60,553.60V636.60M459.20,553.60V636.60M505.80,553.60V636.60M319.40,615.85H505.80M319.40,595.10H505.80M319.40,574.35H505.80M319.40,553.60H505.80" stroke="#ebebeb" stroke-width="0.8" fill="none"/>
<path d="M319.40,553.10V636.60H505.80" stroke="#a8a8a8" stroke-width="1" fill="none"/>
<text x="316.60" y="556.70" text-anchor="end" font-family="'Liberation Sans', sans-serif" font-size="9" fill="#333333">2</text>
<text x="316.60" y="577.45" text-anchor="end" font-family="'Liberation Sans', sans-serif" font-size="9" fill="#333333">1</text>
<text x="316.60" y="598.20" text-anchor="end" font-family="'Liberation Sans', sans-serif" font-size="9" fill="#333333">0</text>
<text x="316.60" y="618.95" text-anchor="end" font-family="'Liberation Sans', sans-serif" font-size="9" fill="#333333">−1</text>
<text x="316.60" y="639.70" text-anchor="end" font-family="'Liberation Sans', sans-serif" font-size="9" fill="#333333">−2</text>
<text x="319.40" y="647.80" text-anchor="middle" font-family="'Liberation Sans', sans-serif" font-size="9" fill="#333333">0</text>
<text x="366.00" y="647.80" text-anchor="middle" font-family="'Liberation Sans', sans-serif" font-size="9" fill="#333333">2</text>
<text x="412.60" y="644.80" text-anchor="middle" font-family="'Liberation Sans', sans-serif" font-size="9" fill="#333333">4</text>
<text x="459.20" y="647.80" text-anchor="middle" font-family="'Liberation Sans', sans-serif" font-size="9" fill="#333333">6</text>
<text x="505.80" y="647.80" text-anchor="middle" font-family="'Liberation Sans', sans-serif" font-size="9" fill="#333333">8</text>
<text transform="translate(306.40,596.60) rotate(-90)" text-anchor="middle" textLength="44" lengthAdjust="spacingAndGlyphs" font-family="'Liberation Serif', serif" font-style="italic" font-size="10" fill="#6a6a6a">n<tspan font-size="6.5" dy="1.8">zh</tspan><tspan dy="-1.8">, n</tspan><tspan font-size="6.5" dy="1.8">zch</tspan><tspan dy="-1.8" font-size="11">/g</tspan></text>
<polyline points="319.40,607.55 331.05,600.29 345.96,589.29 356.21,589.91 366.47,583.27 378.12,568.54 385.11,562.73 393.96,556.09 402.81,561.28 410.04,558.37 418.89,553.81 441.03,553.60 441.49,578.50 443.36,610.04 445.45,629.13 449.88,632.04 458.73,630.58 469.45,626.85 476.91,635.77 494.62,636.60" stroke="#ee6b6b" stroke-width="1.7" fill="none" stroke-dasharray="6 3.5" stroke-linejoin="round"/>
<polyline points="319.40,621.04 335.71,610.66 348.99,600.91 353.42,603.19 356.21,602.57 365.07,593.65 378.35,580.16 385.11,570.82 391.63,566.47 393.96,565.63 399.78,567.09 405.61,572.27 413.07,567.09 420.29,563.56 438.00,564.18 441.03,568.54 443.36,596.76 445.45,632.04 450.35,636.39 457.80,636.60 460.60,632.24 469.45,627.06 475.51,629.34 479.94,625.39 482.73,618.13 494.62,618.13 494.62,636.60" stroke="#22a0c6" stroke-width="1.9" fill="none" stroke-dasharray="3.5 1.6 1.6 1.6" stroke-linejoin="round"/>
<polyline points="319.40,595.10 320.15,596.27 320.89,597.43 321.64,598.58 322.38,599.70 323.13,600.79 323.87,601.84 324.62,602.84 325.36,603.79 326.11,604.67 326.86,605.48 327.74,606.33 328.63,607.08 329.51,607.73 330.40,608.28 331.28,608.74 332.17,609.11 333.05,609.40 333.94,609.61 334.82,609.75 335.71,609.83 337.04,609.84 338.37,609.73 339.69,609.51 341.02,609.20 342.35,608.82 343.68,608.38 345.01,607.89 346.33,607.37 347.66,606.84 348.99,606.31 349.71,606.02 350.44,605.74 351.16,605.46 351.88,605.19 352.60,604.94 353.32,604.69 354.05,604.45 354.77,604.22 355.49,604.01 356.21,603.82 356.96,603.63 357.71,603.45 358.45,603.28 359.20,603.11 359.94,602.93 360.69,602.74 361.43,602.53 362.18,602.30 362.92,602.04 363.67,601.74 364.70,601.27 365.72,600.73 366.75,600.13 367.77,599.48 368.80,598.79 369.82,598.08 370.85,597.34 371.87,596.59 372.90,595.84 373.92,595.10 375.04,594.31 376.16,593.53 377.28,592.74 378.40,591.95 379.51,591.14 380.63,590.29 381.75,589.41 382.87,588.47 383.99,587.46 385.11,586.38 385.99,585.47 386.88,584.52 387.76,583.54 388.65,582.53 389.53,581.51 390.42,580.50 391.30,579.49 392.19,578.50 393.07,577.55 393.96,576.63 394.85,575.77 395.73,574.96 396.62,574.21 397.50,573.52 398.39,572.90 399.27,572.34 400.16,571.85 401.04,571.43 401.93,571.09 402.81,570.82 403.70,570.64 404.58,570.51 405.47,570.45 406.36,570.41 407.24,570.40 408.13,570.40 409.01,570.40 409.90,570.37 410.78,570.31 411.67,570.20 412.69,570.00 413.72,569.72 414.74,569.39 415.77,569.01 416.79,568.59 417.82,568.16 418.84,567.71 419.87,567.27 420.89,566.85 421.92,566.47 423.08,566.07 424.25,565.73 425.41,565.43 426.58,565.18 427.75,564.96 428.91,564.76 430.07,564.60 431.24,564.45 432.40,564.31 433.57,564.18 434.18,564.12 434.78,564.06 435.39,564.03 435.99,564.02 436.60,564.04 437.20,564.11 437.81,564.24 438.42,564.42 439.02,564.68 439.63,565.01 440.07,565.31 440.51,565.68 440.96,566.13 441.40,566.67 441.84,567.33 442.28,568.11 442.73,569.05 443.17,570.15 443.61,571.42 444.05,572.90 444.50,574.58 444.94,576.43 445.38,578.44 445.83,580.55 446.27,582.74 446.71,584.97 447.15,587.22 447.60,589.43 448.04,591.59 448.48,593.65 449.06,596.17 449.65,598.49 450.23,600.62 450.81,602.57 451.39,604.37 451.98,606.02 452.56,607.54 453.14,608.95 453.72,610.26 454.31,611.49 455.05,612.97 455.80,614.34 456.54,615.62 457.29,616.79 458.03,617.86 458.78,618.84 459.53,619.73 460.27,620.53 461.02,621.24 461.76,621.87 462.67,622.52 463.58,623.07 464.49,623.52 465.40,623.89 466.31,624.20 467.22,624.45 468.12,624.66 469.03,624.84 469.94,625.02 470.85,625.19 471.62,625.34 472.39,625.50 473.16,625.66 473.93,625.81 474.69,625.94 475.46,626.06 476.23,626.16 477.00,626.22 477.77,626.24 478.54,626.23 479.56,626.13 480.59,625.95 481.61,625.70 482.64,625.39 483.66,625.02 484.69,624.59 485.72,624.12 486.74,623.60 487.77,623.06 488.79,622.49 489.37,622.16 489.96,621.83 490.54,621.53 491.12,621.26 491.70,621.03 492.29,620.86 492.87,620.77 493.45,620.76 494.03,620.84 494.62,621.04 494.83,621.14 495.04,621.25 495.25,621.38 495.45,621.52 495.66,621.66 495.87,621.82 496.08,621.98 496.29,622.15 496.50,622.32 496.71,622.49" stroke="#cc3333" stroke-width="2" fill="none" stroke-linejoin="round" stroke-linecap="round"/>
<rect x="377" y="595.5" width="62" height="35.8" fill="#ffffff"/>
<line x1="380" y1="601.5" x2="396.5" y2="601.5" stroke="#cc3333" stroke-width="1.8"/>
<text x="398" y="604.3" font-family="'Liberation Serif', serif" font-style="italic" font-size="11" fill="#4a4a4a">n<tspan font-size="7.3" dy="2">zE</tspan><tspan dy="-2"></tspan></text>
<line x1="380" y1="613.1" x2="396.5" y2="613.1" stroke="#ee6b6b" stroke-width="1.7" stroke-dasharray="7 6 4"/>
<text x="398" y="615.9" font-family="'Liberation Serif', serif" font-style="italic" font-size="11" fill="#4a4a4a">n<tspan font-size="7.3" dy="2">zEc</tspan><tspan dy="-2"></tspan></text>
<line x1="380" y1="624.7" x2="396.5" y2="624.7" stroke="#22a0c6" stroke-width="1.9" stroke-dasharray="3.5 1.6 1.6 1.6"/>
<text x="398" y="627.5" font-family="'Liberation Serif', serif" font-style="italic" font-size="11" fill="#4a4a4a">n<tspan font-size="7.3" dy="2">zEc</tspan><tspan dy="-2"> + kλ</tspan></text>
<text x="401.8" y="659.3" font-family="'Liberation Serif', serif" font-weight="bold" font-size="18.5" fill="#111">(h)</text>
<g opacity="0.85"><rect x="30.50" y="66.60" width="24" height="4.8" rx="2" fill="#ee7480"/><rect x="33.10" y="66.40" width="0.9" height="5.2" fill="#ffffff" opacity="0.7"/><rect x="35.70" y="66.40" width="0.9" height="5.2" fill="#ffffff" opacity="0.7"/><rect x="48.00" y="66.40" width="0.9" height="5.2" fill="#ffffff" opacity="0.7"/></g>
<line x1="42.8" y1="36.3" x2="42.8" y2="138" stroke="#1a1a1a" stroke-width="1.25"/>
<polygon points="42.80,143.50 39.90,136.50 42.80,137.90 45.70,136.50" fill="#1a1a1a"/>
<polygon points="42.80,48.00 45.70,55.00 42.80,53.60 39.90,55.00" fill="#1a1a1a"/>
<line x1="42.8" y1="68.8" x2="256" y2="68.8" stroke="#1a1a1a" stroke-width="1.25"/>
<polygon points="261.50,68.80 254.50,71.70 255.90,68.80 254.50,65.90" fill="#1a1a1a"/>
<polygon points="100.50,68.80 93.50,71.70 94.90,68.80 93.50,65.90" fill="#1a1a1a"/>
<line x1="42.8" y1="68.8" x2="212.0" y2="118.0" stroke="#1a1a1a" stroke-width="1.15"/>
<circle cx="42.8" cy="68.8" r="2" fill="#1a1a1a"/>
<path d="M78.79,68.08 A36,36 0 0 1 76.82,80.57" stroke="#1a1a1a" stroke-width="0.9" fill="none"/>
<line x1="176" y1="118.0" x2="247" y2="118.0" stroke="#1a1a1a" stroke-width="0.9" stroke-dasharray="2.5 2"/>
<path d="M183.19,109.62 A30,30 0 0 0 182.00,118.00" stroke="#1a1a1a" stroke-width="0.9" fill="none"/>
<line x1="245.5" y1="74" x2="245.5" y2="112" stroke="#1a1a1a" stroke-width="0.9" stroke-dasharray="2.5 2"/>
<polygon points="245.50,69.50 247.90,75.50 245.50,74.30 243.10,75.50" fill="#1a1a1a"/>
<polygon points="245.50,117.50 243.10,111.50 245.50,112.70 247.90,111.50" fill="#1a1a1a"/>
<g fill="#86a3d8" opacity="0.92"><polygon points="203.12,109.00 220.82,127.67 219.49,130.48 216.47,131.20 201.88,110.00"/><polygon points="211.89,117.53 222.77,122.62 224.98,125.34 216.98,123.83"/><polygon points="208.41,120.35 211.11,132.06 213.32,134.78 213.50,126.65"/></g>
<path d="M199.5,118.0 A12.5,12.5 0 0 1 225.5,118.0" stroke="#1a1a1a" stroke-width="0.9" fill="none"/>
<line x1="212.00" y1="118.00" x2="180.28" y2="91.31" stroke="#1a1a1a" stroke-width="1.25"/><polygon points="177.30,88.80 183.95,91.00 181.28,92.15 180.60,94.97" fill="#1a1a1a"/>
<line x1="212.00" y1="118.00" x2="212.00" y2="95.40" stroke="#1a1a1a" stroke-width="1.25"/><polygon points="212.00,91.50 214.60,98.00 212.00,96.70 209.40,98.00" fill="#1a1a1a"/>
<line x1="212.00" y1="118.00" x2="232.83" y2="95.84" stroke="#1a1a1a" stroke-width="1.25"/><polygon points="235.50,93.00 232.94,99.52 231.94,96.79 229.15,95.96" fill="#1a1a1a"/>
<line x1="212.0" y1="92.8" x2="235" y2="92.8" stroke="#1a1a1a" stroke-width="0.9" stroke-dasharray="2.5 2"/>
<circle cx="212.0" cy="118.0" r="2.2" fill="#1a1a1a"/>
<text x="32.50" y="72.30" text-anchor="start" font-family="'Liberation Serif', serif" font-style="italic" font-size="9" fill="#222">O</text>
<text x="47.50" y="54.50" text-anchor="start" font-family="'Liberation Serif', serif" font-style="italic" font-size="11.5" fill="#111">u<tspan font-size="7.8" dx="0.5" dy="3">E</tspan></text>
<text x="90.00" y="62.00" text-anchor="start" font-family="'Liberation Serif', serif" font-style="italic" font-size="11.5" fill="#111">V<tspan font-size="7.8" dx="0.5" dy="3">E</tspan></text>
<text x="85.50" y="80.50" text-anchor="start" font-family="'Liberation Serif', serif" font-style="italic" font-size="11.5" fill="#111">λ<tspan font-size="7.8" dx="0.5" dy="3">PE</tspan></text>
<text x="47.50" y="86.50" text-anchor="start" font-family="'Liberation Serif', serif" font-style="italic" font-size="11.5" fill="#111">E</text>
<text x="124.50" y="105.00" text-anchor="start" font-family="'Liberation Serif', serif" font-style="italic" font-size="11.5" fill="#111">r<tspan font-size="7.8" dx="0.5" dy="3">PE</tspan></text>
<text x="33.50" y="142.50" text-anchor="start" font-family="'Liberation Serif', serif" font-style="italic" font-size="11" fill="#111">z</text>
<text x="252.50" y="63.50" text-anchor="start" font-family="'Liberation Serif', serif" font-style="italic" font-size="12" fill="#111">x</text>
<text x="183.00" y="90.00" text-anchor="start" font-family="'Liberation Serif', serif" font-style="italic" font-size="11.5" fill="#111">V<tspan font-size="7.8" dx="0.5" dy="3">P</tspan></text>
<text x="205.50" y="89.50" text-anchor="start" font-family="'Liberation Serif', serif" font-style="italic" font-size="11.5" fill="#111">u<tspan font-size="7.8" dx="0.3" dy="-5.5">⊥</tspan><tspan font-size="7.8" dx="-5" dy="8.5">P</tspan></text>
<text x="230.00" y="89.00" text-anchor="start" font-family="'Liberation Serif', serif" font-style="italic" font-size="11.5" fill="#111">u<tspan font-size="7.8" dx="0.5" dy="3">P</tspan></text>
<text x="247.00" y="96.50" text-anchor="start" font-family="'Liberation Serif', serif" font-style="italic" font-size="11.5" fill="#111">z<tspan font-size="7.8" dx="0.5" dy="3">PE</tspan></text>
<text x="225.50" y="113.80" text-anchor="start" font-family="'Liberation Serif', serif" font-style="italic" font-size="11.5" fill="#111">ψ<tspan font-size="7.2" dx="0.5" dy="3">VP</tspan></text>
<text x="207.00" y="137.00" text-anchor="start" font-family="'Liberation Serif', serif" font-style="italic" font-size="11.5" fill="#111">P</text>
<text x="138.0" y="145.1" font-family="'Liberation Serif', serif" font-weight="bold" font-size="18.5" fill="#111">(a)</text>
<g opacity="0.85"><rect x="290.50" y="97.90" width="24" height="4.8" rx="2" fill="#ee7480"/><rect x="293.10" y="97.70" width="0.9" height="5.2" fill="#ffffff" opacity="0.7"/><rect x="295.70" y="97.70" width="0.9" height="5.2" fill="#ffffff" opacity="0.7"/><rect x="308.00" y="97.70" width="0.9" height="5.2" fill="#ffffff" opacity="0.7"/></g>
<line x1="303.7" y1="49" x2="303.7" y2="138" stroke="#1a1a1a" stroke-width="1.25"/>
<polygon points="303.70,143.50 300.80,136.50 303.70,137.90 306.60,136.50" fill="#1a1a1a"/>
<polygon points="303.70,123.50 300.80,116.50 303.70,117.90 306.60,116.50" fill="#1a1a1a"/>
<line x1="303.7" y1="100.8" x2="512" y2="100.8" stroke="#1a1a1a" stroke-width="1.25"/>
<polygon points="517.50,100.80 510.50,103.70 511.90,100.80 510.50,97.90" fill="#1a1a1a"/>
<polygon points="374.00,100.80 367.00,103.70 368.40,100.80 367.00,97.90" fill="#1a1a1a"/>
<line x1="303.7" y1="100.8" x2="483.4" y2="54.6" stroke="#1a1a1a" stroke-width="1.15"/>
<circle cx="303.7" cy="100.8" r="2" fill="#1a1a1a"/>
<path d="M343.70,100.80 A40,40 0 0 0 342.44,90.84" stroke="#1a1a1a" stroke-width="0.9" fill="none"/>
<line x1="449" y1="54.6" x2="511" y2="54.6" stroke="#1a1a1a" stroke-width="0.9" stroke-dasharray="2.5 2"/>
<path d="M461.40,54.60 A22,22 0 0 0 462.09,60.08" stroke="#1a1a1a" stroke-width="0.9" fill="none"/>
<line x1="509.6" y1="61" x2="509.6" y2="95" stroke="#1a1a1a" stroke-width="0.9" stroke-dasharray="2.5 2"/>
<polygon points="509.60,55.50 512.00,61.50 509.60,60.30 507.20,61.50" fill="#1a1a1a"/>
<polygon points="509.60,100.50 507.20,94.50 509.60,95.70 512.00,94.50" fill="#1a1a1a"/>
<g fill="#86a3d8" opacity="0.92"><polygon points="470.17,59.27 491.06,47.78 493.34,49.83 493.34,52.90 470.83,60.73"/><polygon points="479.87,53.38 487.88,46.79 490.85,45.47 486.72,50.33"/><polygon points="481.69,57.47 491.95,55.92 494.92,54.60 488.54,54.42"/></g>
<path d="M473.4,54.6 A10,10 0 0 0 493.4,54.6" stroke="#1a1a1a" stroke-width="0.9" fill="none"/>
<line x1="483.40" y1="54.60" x2="444.46" y2="68.86" stroke="#1a1a1a" stroke-width="1.25"/><polygon points="440.80,70.20 446.01,65.52 445.68,68.41 447.80,70.41" fill="#1a1a1a"/>
<line x1="483.40" y1="54.60" x2="484.03" y2="68.60" stroke="#1a1a1a" stroke-width="1.25"/><polygon points="484.20,72.50 481.31,66.12 483.97,67.31 486.51,65.89" fill="#1a1a1a"/>
<line x1="483.40" y1="54.60" x2="488.82" y2="68.85" stroke="#1a1a1a" stroke-width="1.25"/><polygon points="490.20,72.50 485.46,67.35 488.35,67.64 490.32,65.50" fill="#1a1a1a"/>
<line x1="484" y1="72.2" x2="490" y2="72.2" stroke="#1a1a1a" stroke-width="0.9" stroke-dasharray="2 1.5"/>
<circle cx="483.4" cy="54.6" r="2.2" fill="#1a1a1a"/>
<text x="295.00" y="103.80" text-anchor="start" font-family="'Liberation Serif', serif" font-style="italic" font-size="9" fill="#222">O</text>
<text x="294.00" y="92.50" text-anchor="start" font-family="'Liberation Serif', serif" font-style="italic" font-size="11.5" fill="#111">E</text>
<text x="306.50" y="125.00" text-anchor="start" font-family="'Liberation Serif', serif" font-style="italic" font-size="11.5" fill="#111">u<tspan font-size="7.8" dx="0.5" dy="3">E</tspan></text>
<text x="294.50" y="142.50" text-anchor="start" font-family="'Liberation Serif', serif" font-style="italic" font-size="11" fill="#111">z</text>
<text x="373.00" y="113.50" text-anchor="start" font-family="'Liberation Serif', serif" font-style="italic" font-size="11.5" fill="#111">V<tspan font-size="7.8" dx="0.5" dy="3">E</tspan></text>
<text x="349.50" y="97.50" text-anchor="start" font-family="'Liberation Serif', serif" font-style="italic" font-size="11.5" fill="#111">λ<tspan font-size="7.8" dx="0.5" dy="3">PE</tspan></text>
<text x="386.50" y="71.00" text-anchor="start" font-family="'Liberation Serif', serif" font-style="italic" font-size="11.5" fill="#111">r<tspan font-size="7.8" dx="0.5" dy="3">PE</tspan></text>
<text x="509.50" y="112.50" text-anchor="start" font-family="'Liberation Serif', serif" font-style="italic" font-size="12" fill="#111">x</text>
<text x="476.50" y="45.50" text-anchor="start" font-family="'Liberation Serif', serif" font-style="italic" font-size="11.5" fill="#111">P</text>
<text x="442.50" y="82.50" text-anchor="start" font-family="'Liberation Serif', serif" font-style="italic" font-size="11.5" fill="#111">V<tspan font-size="7.8" dx="0.5" dy="3">P</tspan></text>
<text x="473.00" y="82.50" text-anchor="start" font-family="'Liberation Serif', serif" font-style="italic" font-size="11.5" fill="#111">u<tspan font-size="7.8" dx="0.3" dy="-5.5">⊥</tspan><tspan font-size="7.8" dx="-5" dy="8.5">P</tspan></text>
<text x="488.50" y="82.00" text-anchor="start" font-family="'Liberation Serif', serif" font-style="italic" font-size="11.5" fill="#111">u<tspan font-size="7.8" dx="0.5" dy="3">P</tspan></text>
<text x="489.50" y="64.50" text-anchor="start" font-family="'Liberation Serif', serif" font-style="italic" font-size="11.5" fill="#111">ψ<tspan font-size="7.2" dx="0.5" dy="3">VP</tspan></text>
<text x="510.50" y="80.50" text-anchor="start" font-family="'Liberation Serif', serif" font-style="italic" font-size="11.5" fill="#111">z<tspan font-size="7.8" dx="0.5" dy="3">PE</tspan></text>
<text x="403.0" y="145.1" font-family="'Liberation Serif', serif" font-weight="bold" font-size="18.5" fill="#111">(b)</text>
</svg>
</body></html>
